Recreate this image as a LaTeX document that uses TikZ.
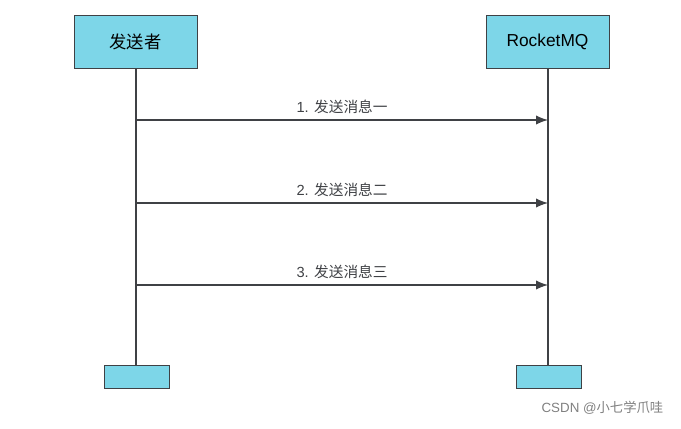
\documentclass[tikz,border=0pt]{standalone}
\usepackage{fontspec}
\setmainfont{Liberation Sans}
\newfontfamily\cjk{Noto Sans CJK SC}
\usetikzlibrary{positioning,arrows.meta}
\definecolor{boxcyan}{HTML}{7DD6E8}
\definecolor{linegray}{HTML}{3F4145}

\begin{document}
\begin{tikzpicture}[x=0.75pt,y=-0.75pt,
    actor/.style={draw=linegray,fill=boxcyan,minimum width=92pt,minimum height=40pt,font=\fontsize{13}{15}\selectfont},
    foot/.style={draw=linegray,fill=boxcyan,minimum width=49pt,minimum height=17pt},
    life/.style={linegray,line width=0.9pt},
    msg/.style={linegray,line width=0.9pt,-{Latex[length=9pt,width=7pt]}},
    lbl/.style={font=\fontsize{11}{13}\selectfont,above}]
      \useasboundingbox (0,0) rectangle (681,428);
      \node[actor] (sender) at (135.5,42) {\cjk 发送者};
      \node[actor] (mq) at (547.5,42) {RocketMQ};
      \node[foot] (senderfoot) at (137,376.5) {};
      \node[foot] (mqfoot) at (548.5,376.5) {};

      \draw[life] (sender.south -| 136,0) -- (senderfoot.north -| 136,0);
      \draw[life] (mq.south -| 548,0) -- (mqfoot.north -| 548,0);

      % messages
      \foreach \y/\n/\t in {120/1/一,203/2/二,285/3/三}{
        \coordinate (s\n) at (136,\y);
        \coordinate (m\n) at (548,\y);
        \draw[msg] (s\n) -- node[lbl,yshift=1pt] {\n. {\cjk 发送消息\t}} (m\n);
      }

      \node[gray,anchor=east] (mark) at (668,408) {CSDN @{\cjk 小七学爪哇}};
\end{tikzpicture}
\end{document}
